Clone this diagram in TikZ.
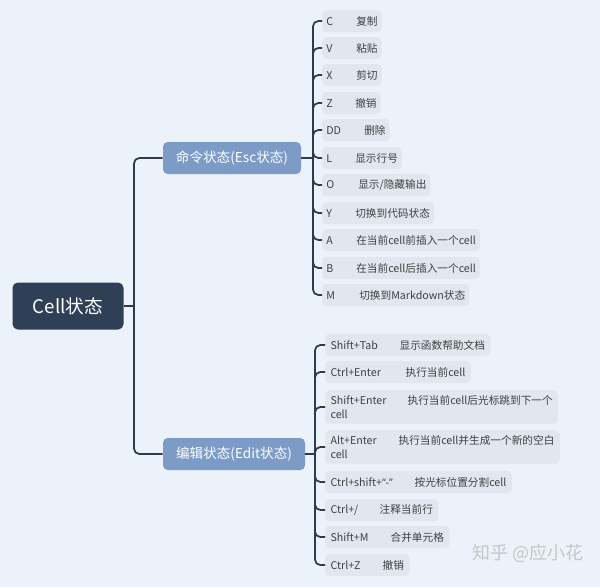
\documentclass[tikz,border=0pt]{standalone}
\usepackage{fontspec}
\setmainfont{Noto Sans CJK SC}
\newfontfamily\quotefont{Open Sans}
\newdimen\unitpx \unitpx=0.75pt
\newcommand{\keycol}[3]{\makebox[#1\unitpx][l]{#2}#3}
\definecolor{bgblue}{RGB}{236,242,249}
\definecolor{rootblue}{RGB}{46,63,86}
\definecolor{midblue}{RGB}{124,155,199}
\definecolor{leafgray}{RGB}{224,231,239}
\definecolor{linedark}{RGB}{47,59,76}
\definecolor{textgray}{RGB}{64,64,64}
\begin{document}
\begin{tikzpicture}[x=0.75pt,y=-0.75pt,
  rootbox/.style={fill=rootblue,text=white,rounded corners=4pt,minimum width=83.25pt,minimum height=35.25pt,font=\fontsize{14}{16}\selectfont},
  midbox/.style={fill=midblue,text=white,rounded corners=3.5pt,minimum height=24pt,inner xsep=7pt,font=\fontsize{10.2}{12}\selectfont},
  leafbox/.style={fill=leafgray,text=textgray,rounded corners=3pt,minimum height=16.5pt,inner xsep=3pt,inner ysep=4pt,align=left,anchor=west,font=\fontsize{8}{10.2}\selectfont},
  branch/.style={draw=linedark,line width=1.3pt,rounded corners=4pt}]
  \useasboundingbox (0,0) rectangle (600,587);
  \fill[bgblue] (0,0) rectangle (600,587);

  \node[rootbox] (cell) at (68,306) {Cell状态};
  \node[midbox,minimum width=103.5pt] (cmd) at (232,158) {命令状态(Esc状态)};
  \node[midbox,minimum width=106.5pt] (edit) at (234,454) {编辑状态(Edit状态)};

  \coordinate (hub) at (134,306);
  \draw[branch] (cell.east) -- (hub);
  \draw[branch] (hub) |- (cmd.west);
  \draw[branch] (hub) |- (edit.west);

  % command mode keys
  \coordinate (cmdhub) at (313,158);
  \draw[branch] (cmd.east) -- (cmdhub);
  \foreach \y/\w/\key/\desc [count=\i] in {21/30/C/复制, 48/30/V/粘贴, 75/30/X/剪切,
      103/29/Z/撤销, 130/38/DD/删除, 158/29/L/显示行号, 185/32/O/{显示/隐藏输出},
      213/29/Y/切换到代码状态, 240/30/A/在当前cell前插入一个cell,
      268/30/B/在当前cell后插入一个cell, 295/33/M/切换到Markdown状态} {
    \node[leafbox] (c\i) at (322,\y) {\keycol{\w}{\key}{\desc}};
    \draw[branch] (cmdhub) |- (c\i.west);
  }

  % edit mode keys
  \coordinate (edithub) at (315,454);
  \draw[branch] (edit.east) -- (edithub);
  \foreach \y/\w/\key/\desc [count=\i] in {345/69/Shift+Tab/显示函数帮助文档,
      372/75/Ctrl+Enter/执行当前cell,
      407/77/Shift+Enter/{执行当前cell后光标跳到下一个\\cell},
      447/68/Alt+Enter/{执行当前cell并生成一个新的空白\\cell},
      482/84/{Ctrl+shift+{\quotefont “-”}}/按光标位置分割cell, 510/49/{Ctrl+/}/注释当前行,
      537/60/Shift+M/合并单元格, 565/52/Ctrl+Z/撤销} {
    \node[leafbox,inner xsep=4pt] (e\i) at (325,\y) {\keycol{\w}{\key}{\desc}};
    \draw[branch] (edithub) |- (e\i.west);
  }

  \node[text=black!22,font=\fontsize{13.5}{15}\selectfont] (mark) at (528,553) {知乎 @应小花};
\end{tikzpicture}
\end{document}
